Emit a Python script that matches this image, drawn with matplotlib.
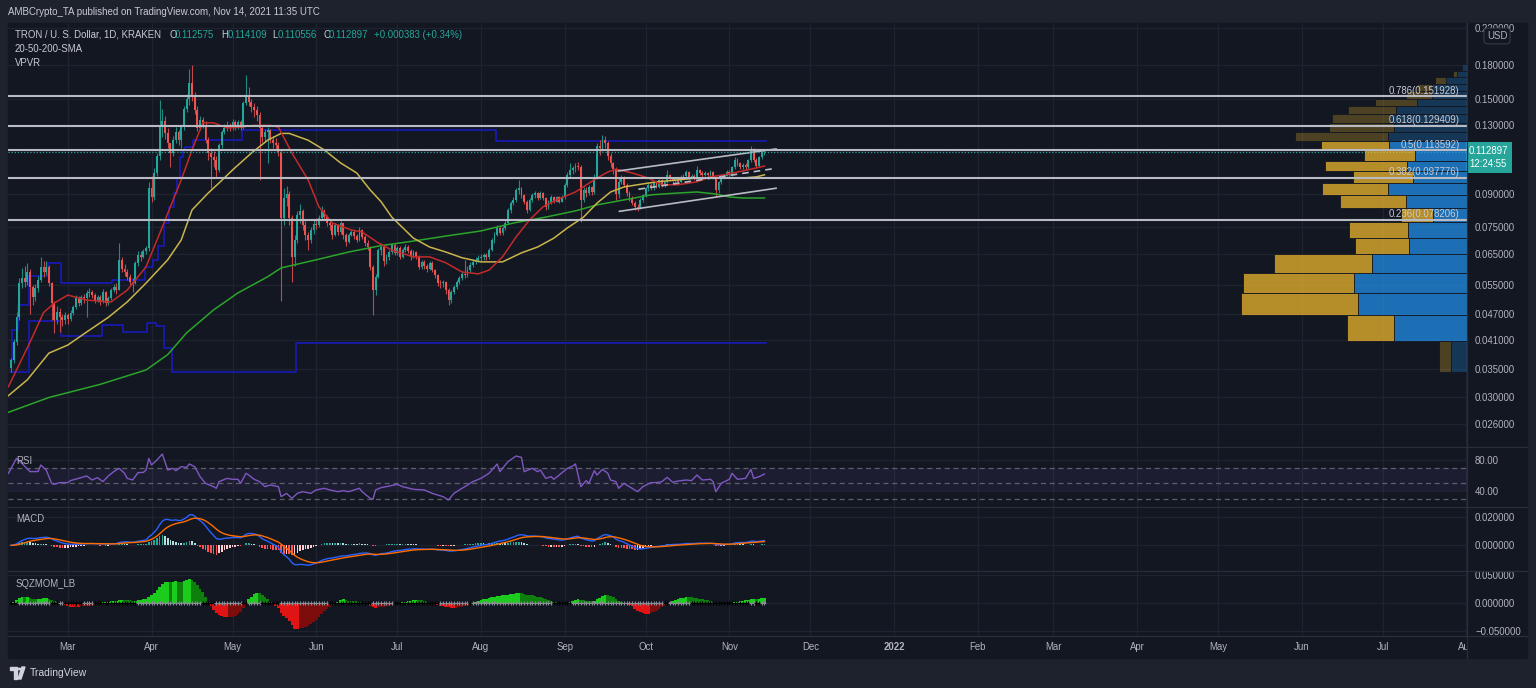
import numpy as np
import pandas as pd
import matplotlib
matplotlib.use("Agg")
import matplotlib.pyplot as plt
import matplotlib.dates as mdates
import matplotlib.ticker as mticker
import matplotlib.transforms as mtransforms
from matplotlib.lines import Line2D
from matplotlib.patches import Rectangle, Polygon, Circle
from matplotlib.colors import to_rgba

plt.rcParams['font.family'] = ['Liberation Sans', 'DejaVu Sans']

# ---------------- data ----------------
START = '2021-02-08'          # first daily candle
first_open = 0.0352

close = [
    .0367, .0404, .0462, .0556, .0571, .0559, .0590, .0544, .0515, .0541,
    .0565, .0607, .0590, .0607, .0556, .0499, .0455, .0476, .0462, .0455,
    .0467, .0457, .0472, .0488, .0512, .0499, .0515, .0512, .0527, .0530,
    .0521, .0507, .0515, .0502, .0530, .0499, .0512, .0535, .0544, .0535,
    .0630, .0600, .0590, .0575, .0560, .0555, .0620, .0645, .0640, .0660,
    .0670, .0928, .0885, .1006, .1100, .1300, .1330, .1250, .1180, .1120,
    .1200, .1255, .1200, .1290, .1420, .1500, .1630, .1515, .1413, .1285,
    .1338, .1300, .1200, .1120, .1095, .1080, .1020, .1170, .1255, .1285,
    .1300, .1280, .1325, .1285, .1325, .1280, .1465, .1530, .1475, .1436,
    .1410, .1375, .1285, .1220, .1255, .1268, .1200, .1185, .1170, .1127,
    .0790, .0880, .0900, .0790, .0640, .0700, .0800, .0820, .0760, .0720,
    .0700, .0740, .0765, .0760, .0790, .0820, .0795, .0770, .0760, .0720,
    .0760, .0730, .0768, .0720, .0694, .0720, .0732, .0718, .0701, .0740,
    .0712, .0690, .0675, .0607, .0535, .0574, .0664, .0675, .0625, .0640,
    .0657, .0683, .0654, .0673, .0640, .0664, .0675, .0662, .0640, .0657,
    .0640, .0607, .0623, .0608, .0600, .0620, .0596, .0580, .0556, .0555,
    .0559, .0535, .0507, .0530, .0544, .0559, .0571, .0584, .0580, .0596,
    .0613, .0623, .0630, .0635, .0640, .0647, .0638, .0664, .0701, .0720,
    .0748, .0728, .0748, .0768, .0824, .0855, .0870, .0918, .0928, .0894,
    .0861, .0824, .0870, .0894, .0903, .0879, .0903, .0880, .0838, .0861,
    .0884, .0861, .0884, .0862, .0884, .0944, .0996, .1022, .1033, .1045,
    .1040, .0870, .0918, .0903, .0933, .0908, .0985, .1165, .1150, .1200,
    .1180, .1100, .1060, .1030, .0900, .0960, .0985, .0944, .0903, .0879,
    .0855, .0838, .0833, .0870, .0894, .0928, .0944, .0928, .0953, .0935,
    .0969, .0940, .0960, .0996, .0975, .0965, .0978, .0959, .0985, .0990,
    .1011, .0985, .0992, .0979, .1022, .1005, .0995, .1008, .0995, .1011,
    .0985, .0918, .0959, .0985, .0992, .1011, .0995, .1038, .1079, .1060,
    .1038, .1050, .1038, .1079, .1139, .1079, .1045, .1095, .112514, .112897,
]
high = [
    .0372, .0412, .0475, .0570, .0602, .0610, .0618, .0598, .0550, .0552,
    .0578, .0640, .0625, .0625, .0612, .0560, .0505, .0490, .0485, .0470,
    .0475, .0472, .0480, .0495, .0520, .0518, .0522, .0525, .0535, .0540,
    .0536, .0527, .0522, .0520, .0538, .0533, .0518, .0540, .0552, .0555,
    .0690, .0640, .0615, .0600, .0585, .0572, .0625, .0662, .0660, .0668,
    .0680, .0960, .0990, .1035, .1120, .1490, .1420, .1370, .1280, .1180,
    .1225, .1290, .1265, .1300, .1440, .1540, .1760, .1800, .1560, .1440,
    .1370, .1360, .1330, .1220, .1150, .1130, .1100, .1185, .1270, .1310,
    .1330, .1320, .1345, .1335, .1340, .1335, .1480, .1705, .1600, .1500,
    .1470, .1440, .1400, .1300, .1275, .1290, .1275, .1225, .1215, .1190,
    .1140, .0930, .0940, .0915, .0800, .0720, .0820, .0850, .0830, .0775,
    .0730, .0750, .0780, .0790, .0800, .0840, .0830, .0800, .0785, .0770,
    .0770, .0765, .0778, .0770, .0728, .0728, .0745, .0740, .0725, .0752,
    .0745, .0720, .0700, .0680, .0612, .0585, .0672, .0690, .0682, .0650,
    .0665, .0690, .0690, .0680, .0678, .0670, .0685, .0682, .0668, .0665,
    .0662, .0645, .0630, .0628, .0615, .0625, .0625, .0600, .0585, .0565,
    .0565, .0562, .0540, .0535, .0550, .0565, .0578, .0592, .0630, .0610,
    .0622, .0632, .0640, .0645, .0650, .0655, .0655, .0670, .0710, .0730,
    .0760, .0755, .0755, .0780, .0835, .0865, .0885, .0930, .0969, .0935,
    .0900, .0870, .0880, .0905, .0915, .0910, .0912, .0910, .0885, .0870,
    .0895, .0890, .0890, .0890, .0895, .0955, .1010, .1060, .1045, .1060,
    .1065, .1050, .0935, .0935, .0945, .0940, .1000, .1180, .1200, .1235,
    .1230, .1195, .1120, .1070, .1040, .0980, .0995, .0990, .0955, .0915,
    .0890, .0865, .0850, .0880, .0900, .0935, .0955, .0955, .0960, .0960,
    .0975, .0975, .0965, .1022, .1000, .0985, .0985, .0985, .0995, .1000,
    .1022, .1015, .1000, .1000, .1045, .1030, .1015, .1015, .1012, .1020,
    .1015, .0990, .0965, .0990, .1000, .1020, .1020, .1045, .1095, .1090,
    .1070, .1060, .1060, .1085, .1165, .1150, .1090, .1105, .1135, .114109,
]
low = [
    .0345, .0362, .0398, .0455, .0540, .0545, .0550, .0470, .0495, .0505,
    .0530, .0558, .0575, .0582, .0548, .0455, .0425, .0445, .0428, .0440,
    .0445, .0446, .0452, .0468, .0482, .0492, .0495, .0500, .0462, .0515,
    .0512, .0500, .0502, .0495, .0498, .0492, .0494, .0508, .0530, .0525,
    .0540, .0590, .0578, .0565, .0550, .0530, .0552, .0610, .0625, .0635,
    .0650, .0660, .0860, .0870, .0990, .1080, .1220, .1205, .1150, .1040,
    .1100, .1180, .1170, .1150, .1270, .1400, .1450, .1480, .1380, .1260,
    .1270, .1280, .1185, .1080, .0930, .1040, .0985, .1010, .1150, .1240,
    .1260, .1260, .1270, .1270, .1275, .1265, .1275, .1450, .1440, .1400,
    .1360, .1330, .0970, .1190, .1190, .1063, .1180, .1150, .1140, .1100,
    .0505, .0760, .0840, .0760, .0560, .0610, .0690, .0770, .0740, .0700,
    .0665, .0690, .0725, .0745, .0750, .0780, .0780, .0755, .0740, .0705,
    .0715, .0720, .0725, .0705, .0680, .0690, .0715, .0705, .0695, .0698,
    .0705, .0680, .0665, .0595, .0468, .0520, .0570, .0645, .0610, .0615,
    .0630, .0650, .0645, .0648, .0632, .0635, .0658, .0655, .0630, .0635,
    .0632, .0598, .0600, .0600, .0590, .0595, .0590, .0570, .0548, .0540,
    .0545, .0525, .0493, .0500, .0525, .0538, .0552, .0565, .0572, .0575,
    .0590, .0605, .0615, .0622, .0625, .0630, .0630, .0632, .0660, .0690,
    .0715, .0720, .0722, .0740, .0765, .0810, .0845, .0860, .0900, .0880,
    .0850, .0810, .0820, .0860, .0880, .0870, .0872, .0870, .0825, .0830,
    .0850, .0855, .0858, .0855, .0858, .0875, .0935, .0985, .1000, .1010,
    .1020, .0772, .0860, .0885, .0895, .0895, .0900, .0975, .1110, .1130,
    .1150, .1080, .1040, .1000, .0870, .0880, .0950, .0935, .0890, .0865,
    .0845, .0825, .0820, .0828, .0860, .0885, .0915, .0920, .0920, .0928,
    .0930, .0935, .0935, .0955, .0965, .0955, .0955, .0950, .0955, .0975,
    .0980, .0975, .0978, .0970, .0975, .0995, .0985, .0990, .0985, .0990,
    .0975, .0884, .0905, .0950, .0975, .0990, .0985, .0990, .1030, .1045,
    .1025, .1030, .1020, .1030, .1070, .1065, .1035, .1040, .1085, .110556,
]

# moving averages (day offset from START, value)
sma20_day = [-1, 7, 12, 16, 21, 28, 37, 43, 50, 56, 63, 67, 71, 75, 80, 85, 90, 96, 99, 104,
             110, 114, 119, 126, 130, 136, 141, 149, 155, 161, 167, 173, 177, 182, 187, 192,
             197, 202, 209, 217, 221, 224, 230, 236, 241, 247, 254, 259, 264, 269, 274, 279]
sma20_val = [.0318, .0404, .0474, .0499, .0521, .0507, .0502, .0535, .0607, .0752, .0969, .1139,
             .1318, .1318, .1282, .1288, .1300, .1300, .1288, .1120, .0969, .0838, .0768, .0740,
             .0732, .0690, .0664, .0640, .0640, .0620, .0590, .0584, .0596, .0640, .0712, .0781,
             .0838, .0870, .0908, .0979, .1011, .1027, .1006, .0979, .0944, .0944, .0959, .0985,
             .0996, .1011, .1027, .1044]
sma50_day = [-1, 6, 14, 21, 28, 36, 43, 50, 58, 63, 67, 73, 77, 82, 89, 95, 100, 103, 110, 116,
             122, 128, 133, 137, 141, 149, 155, 161, 167, 174, 182, 189, 195, 201, 206, 209, 212,
             217, 222, 227, 232, 239, 247, 254, 261, 271, 276, 279]
sma50_val = [.0303, .0330, .0381, .0398, .0427, .0462, .0502, .0556, .0630, .0701, .0824, .0903,
             .0953, .1022, .1120, .1200, .1245, .1245, .1200, .1139, .1062, .1006, .0918, .0862,
             .0793, .0708, .0675, .0657, .0637, .0623, .0623, .0654, .0675, .0708, .0748, .0770,
             .0793, .0855, .0908, .0933, .0944, .0959, .0969, .0979, .0979, .0979, .0985, .0996]
sma200_day = [-1, 14, 33, 50, 58, 65, 75, 84, 95, 100, 113, 125, 137, 149, 161, 174, 186, 198,
              209, 217, 227, 237, 247, 254, 261, 266, 271, 279]
sma200_val = [.0277, .0300, .0322, .0348, .0378, .0425, .0481, .0527, .0575, .0603, .0630, .0657,
              .0680, .0697, .0716, .0736, .0768, .0793, .0820, .0847, .0870, .0894, .0903, .0908,
              .0898, .0884, .0879, .0879]

# blue step levels (day offset where a level starts, price)
band_hi_day = [0, 1, 3, 7, 14, 19, 38, 50, 53, 55, 57, 59, 61, 62, 63, 64, 65, 68, 86, 180, 280]
band_hi_val = [.0367, .0432, .0494, .0577, .0620, .0556, .0565, .0607, .0630, .0679, .0768, .0838,
               .0903, .0979, .1095, .1139, .1160, .1202, .1268, .1195, .1195]
band_lo_day = [0, 7, 19, 34, 42, 51, 54, 57, 60, 106, 280]
band_lo_val = [.0345, .0452, .0418, .0444, .0427, .0447, .0440, .0391, .0344, .0403, .0403]

rsi_day = [-1, 2, 4, 7, 10, 11, 13, 15, 16, 18, 21, 22, 25, 28, 30, 32, 34, 36, 38, 40, 42, 43,
           45, 47, 49, 50, 51, 52, 54, 56, 58, 60, 61, 63, 65, 66, 68, 70, 72, 75, 76, 77, 80,
           82, 84, 85, 87, 88, 90, 92, 94, 96, 99, 100, 102, 104, 106, 108, 111, 113, 116, 118,
           121, 123, 125, 129, 130, 133, 134, 135, 137, 139, 143, 145, 149, 153, 156, 160, 162,
           164, 168, 171, 174, 177, 180, 181, 184, 187, 189, 190, 193, 195, 196, 198, 200, 201,
           203, 206, 208, 209, 211, 213, 214, 216, 217, 219, 221, 222, 224, 225, 227, 229, 230,
           232, 234, 237, 239, 241, 243, 245, 247, 250, 252, 254, 256, 259, 260, 261, 263, 266,
           267, 269, 272, 274, 275, 277, 279]
rsi_val = [62.8, 81.7, 75.4, 64.9, 65.0, 73.3, 67.0, 50.1, 48.8, 51.0, 51.0, 53.5, 56.4, 59.4,
           54.3, 57.3, 52.2, 59.4, 64.9, 69.1, 62.8, 56.4, 54.3, 63.6, 64.0, 67.0, 81.7, 73.3,
           79.6, 87.2, 67.0, 69.1, 66.1, 71.2, 70.3, 74.6, 71.2, 58.5, 50.1, 45.9, 43.8, 52.2,
           56.4, 55.2, 55.2, 50.1, 62.8, 60.6, 55.2, 52.2, 45.9, 48.0, 45.9, 33.2, 37.4, 31.1,
           37.4, 39.5, 37.4, 41.7, 43.8, 41.7, 39.5, 40.8, 39.5, 43.8, 39.5, 31.1, 29.8, 41.7,
           44.6, 45.9, 48.8, 45.9, 42.5, 41.7, 37.4, 33.2, 29.0, 37.4, 45.9, 52.2, 56.4, 62.8,
           74.6, 64.9, 77.5, 84.7, 83.0, 64.9, 69.1, 64.9, 67.0, 56.4, 58.5, 55.2, 60.6, 69.1,
           72.0, 74.6, 45.9, 53.5, 50.1, 66.1, 60.6, 67.8, 62.8, 54.3, 52.2, 43.8, 50.1, 45.9,
           43.8, 39.5, 45.9, 51.0, 51.0, 52.2, 57.7, 51.4, 53.0, 54.3, 53.5, 60.6, 54.3, 55.2,
           52.2, 39.5, 50.1, 55.2, 62.8, 55.2, 56.4, 67.8, 56.4, 58.5, 61.9]

# fibonacci retracement levels
fib_ratio = ['0.786', '0.618', '0.5', '0.382', '0.236']
fib_price = [0.151928, 0.129409, 0.113592, 0.097776, 0.078206]

# rising channel drawn on the chart (day offset, price)
chan_up_day, chan_up_val = [224.9, 283.3], [0.10169, 0.11450]
chan_lo_day, chan_lo_val = [225.3, 283.3], [0.08181, 0.09264]
chan_mid_day, chan_mid_val = [232.3, 283.3], [0.09213, 0.10316]

# visible-range volume profile, 24 rows from the lowest low to the highest high
vp_low, vp_high = 0.0345, 0.1805
vp_up = [16, 72.7, 108.7, 112.7, 95.3, 57.7, 59.3, 34.3, 61, 79.3, 53.7, 60.3, 52, 77.7,
         79.3, 72.7, 77, 71, 50, 34.7, 35.3, 21.3, 10, 5.3]
vp_down = [12.3, 47.6, 117.3, 111.6, 98, 54.3, 58.4, 31.7, 66, 65.4, 60.6, 81.7, 50.7, 68.6,
           93, 65.3, 58.3, 48.3, 42, 26.6, 14.4, 10.4, 4.3, 1]
vp_value_area = (1, 13)   # row indices drawn bright

price_ticks = [0.22, 0.18, 0.15, 0.13, 0.09, 0.075, 0.065, 0.055, 0.047, 0.041, 0.035, 0.030, 0.026]

# ---------------- styling ----------------
W, H = 1536, 688
BG = '#131722'
FRAME = '#1e222d'
GRID = '#1f2330'
SEP = '#2a2e39'
TXT = '#b2b5be'
LIGHT = '#c8cbd3'
UP = '#26a69a'
DN = '#ef5350'
FS = 6.9

fig = plt.figure(figsize=(W / 100, H / 100), dpi=100)
fig.patch.set_facecolor(FRAME)


def px_axes(x0, y0, x1, y1, **kw):
    return fig.add_axes([x0 / W, 1 - y1 / H, (x1 - x0) / W, (y1 - y0) / H], **kw)


def ftext(x, y, s, **kw):
    kw.setdefault('fontsize', FS)
    kw.setdefault('color', TXT)
    kw.setdefault('va', 'center')
    return fig.text(x / W, 1 - y / H, s, **kw)


def fline(x0, y0, x1, y1, **kw):
    fig.add_artist(Line2D([x0 / W, x1 / W], [1 - y0 / H, 1 - y1 / H],
                          transform=fig.transFigure, **kw))


def fpx(pts):
    return [(x / W, 1 - y / H) for x, y in pts]


fig.add_artist(Rectangle((8 / W, 1 - 658 / H), (1527 - 8) / W, (658 - 22.7) / H,
                         transform=fig.transFigure, color=BG, zorder=0))

t0 = mdates.date2num(pd.Timestamp(START))
def dnum(d):
    return t0 + np.asarray(d, dtype=float)

n = len(close)
t = dnum(np.arange(n))
XLIM = (t0 - 1.15, t0 + 539.2)
months = pd.date_range('2021-03-01', '2022-08-01', freq='MS')
mnums = mdates.date2num(months)


def style(a, ticks, labels):
    a.set_facecolor('none')
    for s in a.spines.values():
        s.set_visible(False)
    a.set_xlim(*XLIM)
    a.set_axisbelow(True)
    a.tick_params(axis='x', length=0, labelbottom=False)
    a.yaxis.tick_right()
    a.set_yticks(ticks, labels=labels)
    a.yaxis.set_minor_locator(mticker.NullLocator())
    a.tick_params(axis='y', length=0, pad=5.8, labelsize=FS, labelcolor=TXT)
    a.grid(axis='y', color=GRID, lw=0.9)
    for m in mnums:
        a.axvline(m, color=GRID, lw=0.9, zorder=0)


# ---------------- main price pane ----------------
ax = px_axes(8, 22.7, 1467, 447)
ax.set_yscale('log')
ax.set_ylim(0.022975, 0.22607)
style(ax, price_ticks, ['%.6f' % v for v in price_ticks])

c = np.array(close)
hi = np.array(high)
lo = np.array(low)
o = np.r_[first_open, c[:-1]]
hi = np.maximum(hi, np.maximum(o, c))     # a wick never ends inside the body
lo = np.minimum(lo, np.minimum(o, c))
rising = c >= o
cols = np.where(rising, UP, DN)
wick_cols = np.where(rising, '#1f8a80', '#c2484a')
ax.vlines(t, lo, hi, colors=wick_cols, lw=0.8, zorder=3)
bot = np.minimum(o, c)
ax.bar(t, np.maximum(np.abs(c - o), bot * 0.004), bottom=bot, width=0.68,
       color=cols, linewidth=0, zorder=4)

ax.plot(dnum(sma200_day), sma200_val, color='#2aa52a', lw=1.1, zorder=5)
ax.plot(dnum(sma50_day), sma50_val, color='#c9b54c', lw=1.1, zorder=5)
ax.plot(dnum(sma20_day), sma20_val, color='#c42a2a', lw=1.1, zorder=5)

ax.step(dnum(band_hi_day) - 0.5, band_hi_val, where='post', color='#1a1ac8', lw=1.1, zorder=2)
ax.step(dnum(band_lo_day) - 0.5, band_lo_val, where='post', color='#1a1ac8', lw=1.1, zorder=2)

ax.plot(dnum(chan_up_day), chan_up_val, color='#b8bbc4', lw=1.2, zorder=6)
ax.plot(dnum(chan_lo_day), chan_lo_val, color='#b8bbc4', lw=1.2, zorder=6)
ax.plot(dnum(chan_mid_day), chan_mid_val, color='#b8bbc4', lw=1.2, ls=(0, (4, 3)), zorder=6)

ax.axhline(c[-1], color=UP, lw=0.9, ls=(0, (1, 1.5)), zorder=6)

# volume profile on a twin axis that grows leftwards from the right edge
vp = ax.twiny()
vp.xaxis.set_visible(False)
for s in vp.spines.values():
    s.set_visible(False)
vp_tot = np.array(vp_up) + np.array(vp_down)
vp.set_xlim(vp_tot.max() / 0.155, 0)
edges = np.linspace(vp_low, vp_high, len(vp_up) + 1)
rows = np.arange(len(vp_up))
bright = (rows >= vp_value_area[0]) & (rows <= vp_value_area[1])
alpha = np.where(bright, 0.7, 0.25)
up_cols = [to_rgba('#2196f3', a) for a in alpha]
dn_cols = [to_rgba('#fbc02d', a) for a in alpha]
vp.barh(edges[:-1], vp_up, height=np.diff(edges), left=0, align='edge',
        color=up_cols, edgecolor=BG, linewidth=0.6, zorder=2)
vp.barh(edges[:-1], vp_down, height=np.diff(edges), left=vp_up, align='edge',
        color=dn_cols, edgecolor=BG, linewidth=0.6, zorder=2)

ytr = vp.get_yaxis_transform()
for r, p in zip(fib_ratio, fib_price):
    vp.axhline(p, color='#b8bbc4', lw=1.5, zorder=5)
    vp.text(0.995, p * 1.004, '%s(%.6f)' % (r, p), transform=ytr, ha='right', va='bottom',
            fontsize=FS, color=LIGHT, zorder=6)

# ---------------- RSI pane ----------------
ax_rsi = px_axes(8, 447, 1467, 506.7)
ax_rsi.set_ylim(20.5, 96.1)
style(ax_rsi, [80, 40], ['80.00', '40.00'])
ax_rsi.axhspan(40, 70, color='#7e57c2', alpha=0.1, lw=0, zorder=1)
for lv in (70, 50, 30):
    ax_rsi.axhline(lv, color='#5d606b', lw=0.9, ls=(0, (4, 3)), zorder=2)
ax_rsi.plot(dnum(rsi_day), rsi_val, color='#7e57c2', lw=1.0, zorder=3)

# ---------------- MACD pane ----------------
sc = pd.Series(c)
macd = sc.ewm(span=12, adjust=False).mean() - sc.ewm(span=26, adjust=False).mean()
signal = macd.ewm(span=9, adjust=False).mean()
hist = (macd - signal).to_numpy()
prev = np.r_[0, hist[:-1]]
hcols = np.where(hist >= 0, np.where(hist > prev, '#26a69a', '#b2dfdb'),
                 np.where(hist > prev, '#ffcdd2', '#ff5252'))
ax_macd = px_axes(8, 506.7, 1467, 571)
ax_macd.set_ylim(-0.01836, 0.02757)
style(ax_macd, [0.02, 0.0], ['0.020000', '0.000000'])
ax_macd.bar(t, hist, width=0.6, color=hcols, linewidth=0, zorder=2)
ax_macd.plot(t, macd, color='#2962ff', lw=1.0, zorder=3)
ax_macd.plot(t, signal, color='#ff6d00', lw=1.0, zorder=3)

# ---------------- squeeze momentum pane ----------------
sh, sl = pd.Series(hi), pd.Series(lo)
basis = sc.rolling(20, min_periods=1).mean()
dev = 1.5 * sc.rolling(20, min_periods=2).std(ddof=0).fillna(0)
prev_c = sc.shift(1).fillna(sc.iloc[0])
tr = pd.concat([sh - sl, (sh - prev_c).abs(), (sl - prev_c).abs()], axis=1).max(axis=1)
rng = tr.rolling(20, min_periods=1).mean()
sqz_on = ((basis - dev) > (basis - 1.5 * rng)) & ((basis + dev) < (basis + 1.5 * rng))
sqz_off = ((basis - dev) < (basis - 1.5 * rng)) & ((basis + dev) > (basis + 1.5 * rng))
mid = ((sh.rolling(20, min_periods=1).max() + sl.rolling(20, min_periods=1).min()) / 2 + basis) / 2


def linreg_last(y):
    x = np.arange(len(y))
    b, a = np.polyfit(x, y, 1)
    return a + b * (len(y) - 1)


val = (sc - mid).rolling(20, min_periods=2).apply(linreg_last, raw=True).fillna(0).to_numpy()
pv = np.r_[0, val[:-1]]
scols = np.where(val > 0, np.where(val > pv, '#1ccc1c', '#0c7f0c'),
                 np.where(val < pv, '#e01414', '#7d0c0c'))
dot_cols = np.where(sqz_on, '#000000', np.where(sqz_off, '#8a8d96', '#2962ff'))

ax_sqz = px_axes(8, 571, 1467, 636)
ax_sqz.set_ylim(-0.0585, 0.0567)
style(ax_sqz, [0.05, 0.0, -0.05], ['0.050000', '0.000000', '\u22120.050000'])
ax_sqz.bar(t, val, width=1.0, color=scols, linewidth=0, zorder=2)
ax_sqz.scatter(t, np.zeros(n), marker='+', s=7, linewidths=0.8, c=dot_cols, zorder=3)

# ---------------- time axis ----------------
ax_t = px_axes(8, 636, 1467, 658)
ax_t.set_xlim(*XLIM)
ax_t.set_ylim(0, 1)
ax_t.axis('off')
for m, mn in zip(months, mnums):
    lab = str(m.year) if m.month == 1 else m.strftime('%b')
    ax_t.text(mn, 0.5, lab, ha='center', va='center', fontsize=FS, color=TXT,
              fontweight='bold' if m.month == 1 else 'normal', clip_on=True)

# separators
for y in (447, 506.7, 571, 636):
    fline(8, y, 1527, y, color=SEP, lw=0.9)
fline(1467, 22.7, 1467, 658, color=SEP, lw=0.9)

# ---------------- texts ----------------
ftext(8, 12, 'AMBCrypto_TA published on TradingView.com, Nov 14, 2021 11:35 UTC',
      color=LIGHT, fontsize=7)
ftext(15, 34.7, 'TRON / U. S. Dollar, 1D, KRAKEN', color=LIGHT)
for x, s, col in [(169.3, 'O', LIGHT), (175, '0.112575', UP),
                  (221.7, 'H', LIGHT), (227.7, '0.114109', UP),
                  (272.7, 'L', LIGHT), (277.5, '0.110556', UP),
                  (323.3, 'C', LIGHT), (329, '0.112897', UP),
                  (374, '+0.000383 (+0.34%)', UP)]:
    ftext(x, 34.7, s, color=col)
ftext(15, 49.3, '20-50-200-SMA', color=LIGHT)
ftext(15, 63.3, 'VPVR', color=LIGHT)
ftext(16, 460.7, 'RSI')
ftext(16, 519.3, 'MACD')
ftext(16, 584, 'SQZMOM_LB')

ftext(1497, 36, 'USD', ha='center',
      bbox=dict(boxstyle='round,pad=0.3,rounding_size=0.4', fc=BG, ec='#363a45', lw=0.8))

blend = mtransforms.blended_transform_factory(fig.transFigure, ax.transData)
ax.annotate('0.112897\n12:24:55', xy=(1469 / W, c[-1]), xycoords=blend,
            xytext=(0, 6), textcoords='offset pixels', ha='left', va='top',
            fontsize=FS, color='white', linespacing=1.45, annotation_clip=False,
            bbox=dict(boxstyle='square,pad=0.35', fc=UP, ec='none'))

# small TradingView mark in the footer
LOGO = '#d1d4dc'
fig.add_artist(Polygon(fpx([(10, 667), (17, 667), (17, 679), (14, 679), (14, 670), (10, 670)]),
                       closed=True, transform=fig.transFigure, color=LOGO))
fig.add_artist(Circle((19.5 / W, 1 - 669 / H), 1.6 / W, transform=fig.transFigure, color=LOGO))
fig.add_artist(Polygon(fpx([(22, 667), (25, 667), (21, 679), (18, 679)]),
                       closed=True, transform=fig.transFigure, color=LOGO))
ftext(30, 673, 'TradingView', color=LOGO, fontsize=7.5)

fig.savefig('out.png', dpi=100, facecolor=fig.get_facecolor())
